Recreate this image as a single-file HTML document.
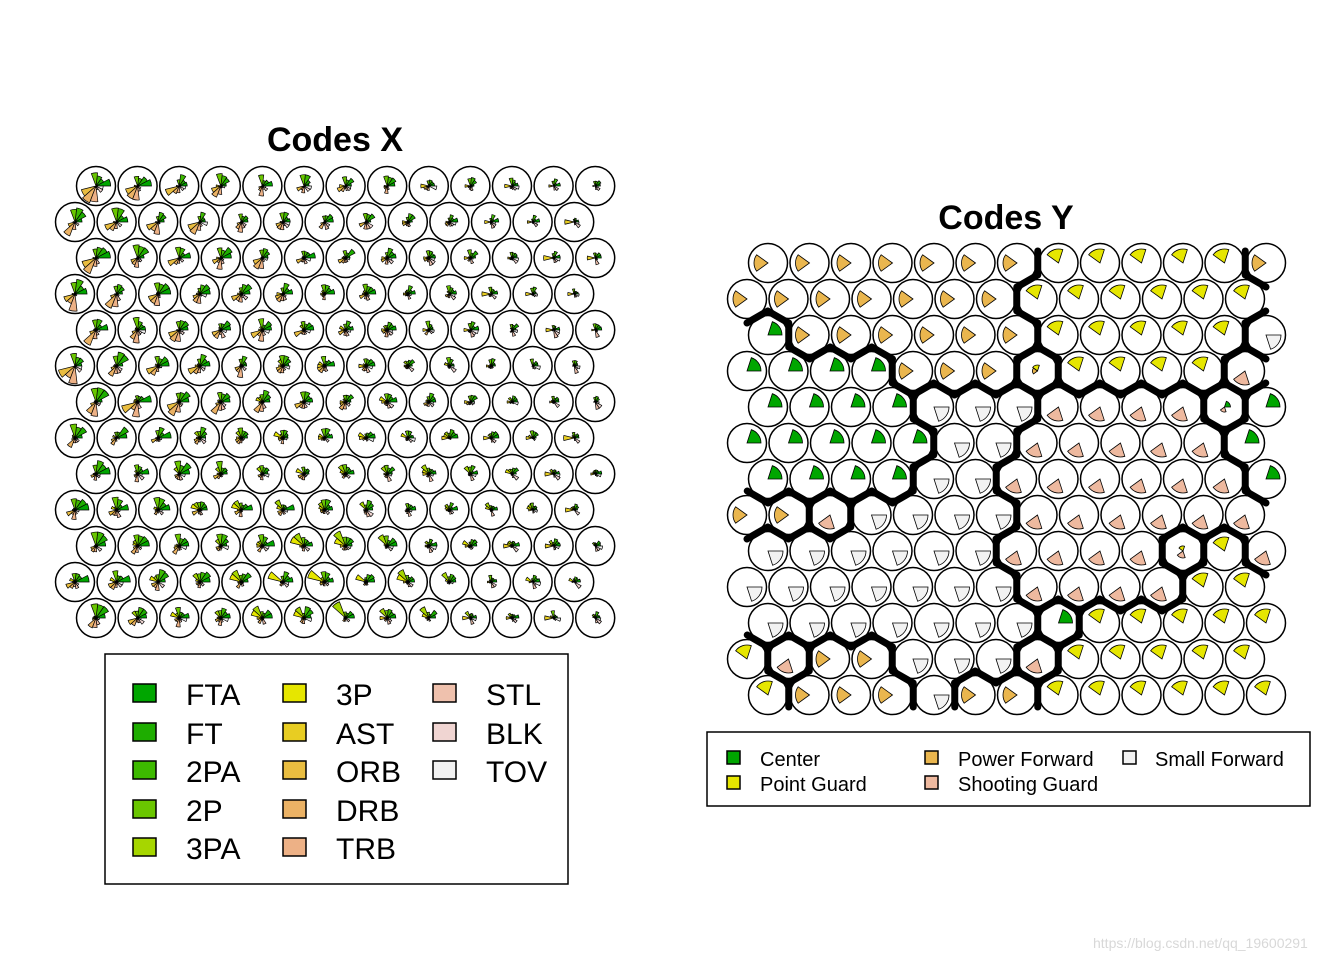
<!DOCTYPE html>
<html><head><meta charset="utf-8"><style>
html,body{margin:0;padding:0;background:#fff;}
svg{display:block;}
text{font-family:"Liberation Sans",Arial,sans-serif;}
</style></head><body>
<svg id="s" width="1344" height="960" viewBox="0 0 1344 960" xmlns="http://www.w3.org/2000/svg">
<rect width="1344" height="960" fill="#fff"/>
<text x="335" y="151" font-size="34" font-weight="bold" text-anchor="middle">Codes X</text>
<text x="1006" y="229" font-size="34" font-weight="bold" text-anchor="middle">Codes Y</text>
<g id="left"></g>
<g id="right"></g>
<g id="bnd"></g>
<rect x="105" y="654" width="463" height="230" fill="none" stroke="#000" stroke-width="1.5"/>
<g stroke="#000" stroke-width="1.5">
<rect x="133" y="684" width="23" height="18" fill="#00A600"/>
<rect x="133" y="723" width="23" height="18" fill="#1EAD00"/>
<rect x="133" y="761" width="23" height="18" fill="#3DBA00"/>
<rect x="133" y="800" width="23" height="18" fill="#6AC600"/>
<rect x="133" y="838" width="23" height="18" fill="#A6D600"/>
<rect x="283" y="684" width="23" height="18" fill="#E6E600"/>
<rect x="283" y="723" width="23" height="18" fill="#E8CD22"/>
<rect x="283" y="761" width="23" height="18" fill="#E9BD40"/>
<rect x="283" y="800" width="23" height="18" fill="#EBB265"/>
<rect x="283" y="838" width="23" height="18" fill="#EDB186"/>
<rect x="433" y="684" width="23" height="18" fill="#EFC1AD"/>
<rect x="433" y="723" width="23" height="18" fill="#F0D5D2"/>
<rect x="433" y="761" width="23" height="18" fill="#F2F2F2"/>
</g>
<g font-size="30">
<text x="186" y="705">FTA</text><text x="186" y="744">FT</text><text x="186" y="782">2PA</text><text x="186" y="821">2P</text><text x="186" y="859">3PA</text>
<text x="336" y="705">3P</text><text x="336" y="744">AST</text><text x="336" y="782">ORB</text><text x="336" y="821">DRB</text><text x="336" y="859">TRB</text>
<text x="486" y="705">STL</text><text x="486" y="744">BLK</text><text x="486" y="782">TOV</text>
</g>
<rect x="707" y="732" width="603" height="74" fill="none" stroke="#000" stroke-width="1.5"/>
<g stroke="#000" stroke-width="1.5">
<rect x="727" y="751" width="13" height="13" fill="#00A600"/>
<rect x="727" y="776" width="13" height="13" fill="#E6E600"/>
<rect x="925" y="751" width="13" height="13" fill="#EAB64E"/>
<rect x="925" y="776" width="13" height="13" fill="#EEB99F"/>
<rect x="1123" y="751" width="13" height="13" fill="#F2F2F2"/>
</g>
<g font-size="20">
<text x="760" y="766">Center</text><text x="760" y="791">Point Guard</text>
<text x="958" y="766">Power Forward</text><text x="958" y="791">Shooting Guard</text>
<text x="1155" y="766">Small Forward</text>
</g>
<text x="1093" y="948" font-size="14" fill="#d8d8d8">https://blog.csdn.net/qq_19600291</text>
</svg>
<script>
(function(){
var NS="http://www.w3.org/2000/svg";
function el(p,t,a){var e=document.createElementNS(NS,t);for(var k in a)e.setAttribute(k,a[k]);p.appendChild(e);return e;}
function sec(cx,cy,r,a1,a2){var A=a1*Math.PI/180,B=a2*Math.PI/180;
return "M"+cx+","+cy+"L"+(cx+r*Math.cos(A)).toFixed(2)+","+(cy-r*Math.sin(A)).toFixed(2)+"A"+r+","+r+" 0 0 0 "+(cx+r*Math.cos(B)).toFixed(2)+","+(cy-r*Math.sin(B)).toFixed(2)+"Z";}
var seed=12345;function rnd(){seed|=0;seed=seed+0x6D2B79F5|0;var t=Math.imul(seed^seed>>>15,1|seed);t=t+Math.imul(t^t>>>7,61|t)^t;return((t^t>>>14)>>>0)/4294967296;}
var L=document.getElementById('left');
var cols=["#00A600","#1EAD00","#3DBA00","#6AC600","#A6D600","#E6E600","#E8CD22","#E9BD40","#EBB265","#EDB186","#EFC1AD","#F0D5D2","#F2F2F2"];
for(var r=0;r<13;r++){for(var c=0;c<13;c++){
 var x=(r%2?75:96)+c*41.6,y=186+r*36;
 el(L,"circle",{cx:x,cy:y,r:19.5,fill:"#fff",stroke:"#000","stroke-width":1.5});
 var lf=1-c/12, bf=r/12, mid=1-Math.abs(c-6)/6;
 var v=[];
 for(var i=0;i<13;i++){
  var q;
  if(i<4) q=(0.3+0.45*rnd())*(0.5+0.6*lf);
  else if(i<6) q=rnd()*0.9*bf*(0.4+0.8*mid);
  else if(i==6) q=rnd()*0.6*(0.3+0.7*(1-lf));
  else if(i<10) q=(0.3+0.7*rnd())*lf*(r<7?1.0:0.6);
  else q=rnd()*0.45;
  v.push(Math.min(1,q));
 }
 var st=360/13;
 for(var i=0;i<13;i++){ if(v[i]<0.04)continue;
  el(L,"path",{d:sec(x,y,(v[i]*18).toFixed(2),i*st,(i+1)*st),fill:cols[i],stroke:"#000","stroke-width":0.7});
 }
}}
var R=document.getElementById('right');
var map=["FFFFFFFPPPPPF","FFFFFFFPPPPPP","CFFFFFFPPPPPS","CCCCFFF1PPPPG","CCCCSSSGGGG2C","CCCCCSSGGGGGC","CCCCSSGGGGGGC","FFGSSSSGGGGGG","SSSSSSGGGG3PG","SSSSSSSGGGGPP","SSSSSSSCPPPPP","PGFFSSSGPPPPP","PFFFSFFPPPPPP"];
var RC={C:"#00A600",P:"#E6E600",F:"#EAB64E",G:"#EEB99F",S:"#F2F2F2"};
var ANG={C:0,P:72,F:144,G:216,S:288};
var mix={"1":[["P",6],["F",5]],"2":[["C",6],["G",5]],"3":[["P",5],["G",7]]};
var D=41.5,H=36,HR=D/Math.sqrt(3);
function cx(r,c){return (r%2?747:768)+c*D;}
for(var r=0;r<13;r++)for(var c=0;c<13;c++){
 var x=cx(r,c),y=263+r*H,k=map[r][c];
 el(R,"circle",{cx:x,cy:y,r:19.5,fill:"#fff",stroke:"#000","stroke-width":1.5});
 var list=mix[k]||[[k,k=="S"?15:14]];
 list.forEach(function(p){el(R,"path",{d:sec(x,y,p[1],ANG[p[0]],ANG[p[0]]+72),fill:RC[p[0]],stroke:"#000","stroke-width":0.8});});
}
var B=document.getElementById('bnd');var d="";
function diff(r1,c1,r2,c2){if(r2<0||r2>12||c2<0||c2>12)return false;return map[r1][c1]!=map[r2][c2];}
for(var r=0;r<13;r++)for(var c=0;c<13;c++){
 var x=cx(r,c),y=263+r*H;
 if(diff(r,c,r,c+1)) d+="M"+(x+D/2)+","+(y-HR/2)+"L"+(x+D/2)+","+(y+HR/2);
 var lc=r%2?c-1:c, rc=r%2?c:c+1;
 if(diff(r,c,r+1,rc)) d+="M"+(x+D/2)+","+(y+HR/2)+"L"+x+","+(y+HR);
 if(diff(r,c,r+1,lc)) d+="M"+x+","+(y+HR)+"L"+(x-D/2)+","+(y+HR/2);
}
el(B,"path",{d:d,fill:"none",stroke:"#000","stroke-width":7,"stroke-linecap":"round","stroke-linejoin":"round"});
})();
</script>
</body></html>
